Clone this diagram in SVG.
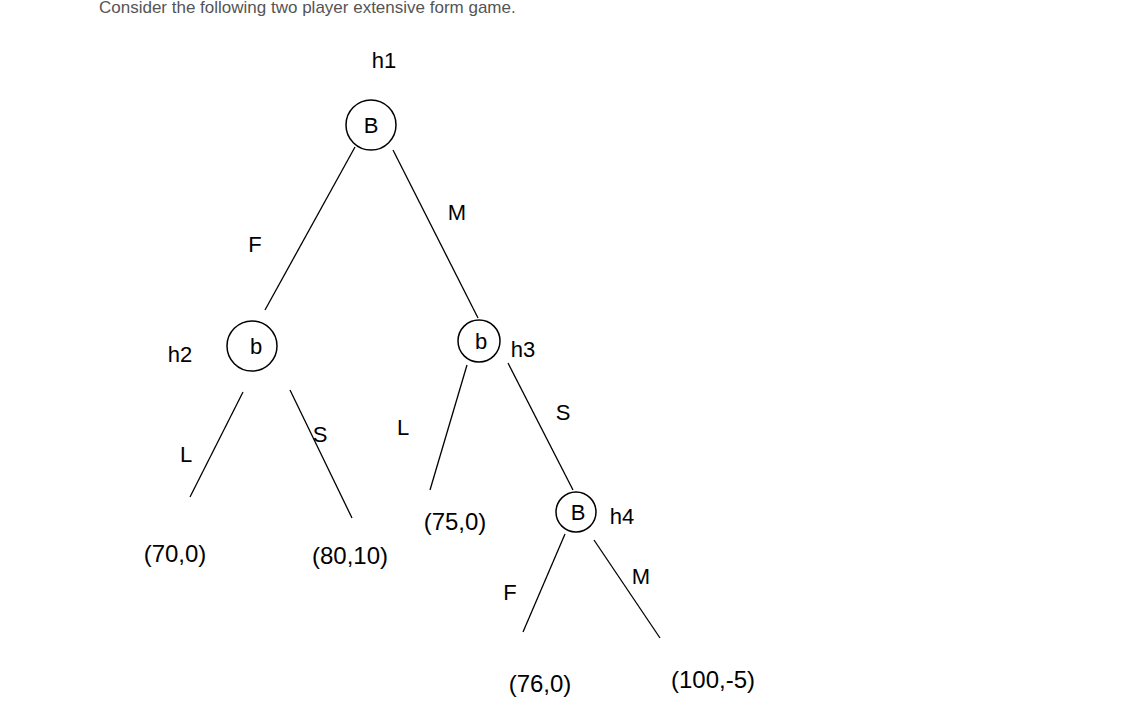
<svg xmlns="http://www.w3.org/2000/svg" width="1137" height="728" viewBox="0 0 1137 728">
<style>
.n{fill:none;stroke:#000;stroke-width:1.5}
.e{stroke:#000;stroke-width:1.3;fill:none}
.t{font-family:"Liberation Sans",sans-serif;font-size:22px;fill:#000}
.p{font-family:"Liberation Sans",sans-serif;font-size:24px;fill:#000}
.h{font-family:"Liberation Sans",sans-serif;font-size:17px;fill:#555}
</style>
<rect width="1137" height="728" fill="#fff"/>
<text class="h" x="99" y="13">Consider the following two player extensive form game.</text>
<g id="connectors">
<path class="e" d="M355 147 L265 310"/>
<path class="e" d="M393 150 L478 318"/>
<path class="e" d="M243 392 L190 497"/>
<path class="e" d="M290 390 L352 518"/>
<path class="e" d="M467 365 L430 490"/>
<path class="e" d="M508 363 L573 490"/>
<path class="e" d="M565 534 L523 632"/>
<path class="e" d="M594 540 L660 638"/>
</g>
<g id="h1"><circle class="n" cx="371" cy="125" r="25"/><text class="t" x="371" y="133" text-anchor="middle">B</text><text class="t" x="384" y="68" text-anchor="middle">h1</text></g>
<g id="h2"><circle class="n" cx="252" cy="346" r="25"/><text class="t" x="256" y="354" text-anchor="middle">b</text><text class="t" x="180" y="362" text-anchor="middle">h2</text></g>
<g id="h3"><circle class="n" cx="479" cy="341" r="21"/><text class="t" x="481" y="349" text-anchor="middle">b</text><text class="t" x="523" y="357" text-anchor="middle">h3</text></g>
<g id="h4"><circle class="n" cx="576" cy="512" r="20"/><text class="t" x="578" y="520" text-anchor="middle">B</text><text class="t" x="622" y="524" text-anchor="middle">h4</text></g>
<g id="labels">
<text class="t" x="255" y="252" text-anchor="middle">F</text>
<text class="t" x="457" y="220" text-anchor="middle">M</text>
<text class="t" x="186" y="462" text-anchor="middle">L</text>
<text class="t" x="320" y="442" text-anchor="middle">S</text>
<text class="t" x="403" y="435" text-anchor="middle">L</text>
<text class="t" x="563" y="420" text-anchor="middle">S</text>
<text class="t" x="510" y="600" text-anchor="middle">F</text>
<text class="t" x="641" y="584" text-anchor="middle">M</text>
<text class="p" x="175" y="562" text-anchor="middle">(70,0)</text>
<text class="p" x="350" y="564" text-anchor="middle">(80,10)</text>
<text class="p" x="455" y="530" text-anchor="middle">(75,0)</text>
<text class="p" x="540" y="692" text-anchor="middle">(76,0)</text>
<text class="p" x="713" y="688" text-anchor="middle">(100,-5)</text>
</g>
</svg>
